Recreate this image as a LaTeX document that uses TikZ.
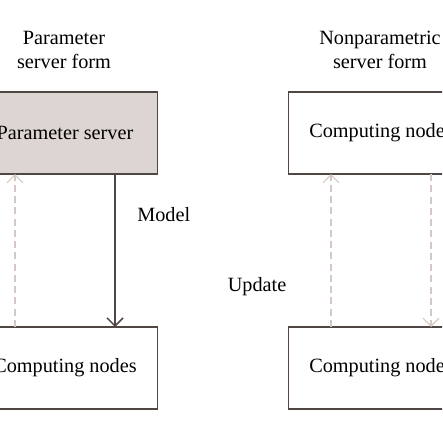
\documentclass[tikz,border=0pt]{standalone}
\usepackage{fontspec}
\setmainfont{Liberation Serif}
\usetikzlibrary{arrows.meta}
\definecolor{boxline}{HTML}{4F4744}
\definecolor{boxfill}{HTML}{DDD5D2}
\definecolor{dashline}{HTML}{D3C8C4}
\newcommand\armshift{1.25cm}

\begin{document}
\begin{tikzpicture}[x=0.025cm,y=-0.025cm,
		mybox/.style={rectangle,draw=boxline,line width=1.3pt,text=black,inner sep=0cm,outer sep=0cm,minimum width=4.625cm,minimum height=2.05cm,font=\fontsize{14.4}{17}\selectfont},
		mytitle/.style={align=center,text=black,inner sep=0cm,font=\fontsize{14.4}{17}\selectfont},
		mylabel/.style={text=black,inner sep=0cm,font=\fontsize{14.4}{17}\selectfont},
		solidarrow/.style={draw=boxline,line width=1.1pt,-{Straight Barb[length=2mm,width=4mm]}},
		dasharrow/.style={draw=dashline,line width=0.8pt,dash pattern=on 5pt off 3pt,-{Straight Barb[length=2mm,width=4mm]}}]
		\useasboundingbox (0,0) rectangle (442,442);
		\clip (0,0) rectangle (442,442);
		% left: parameter server form
		\node(tl)[mytitle] at (64,50) {Parameter\\server form};
		\node(ps)[mybox,fill=boxfill] at (65,133) {Parameter server};
		\node(cl)[mybox] at (65,368) {Computing nodes};
		% right: nonparametric server form
		\node(tr)[mytitle] at (380,50) {Nonparametric\\server form};
		\node(cu)[mybox] at (381,133) {Computing nodes};
		\node(cd)[mybox] at (381,368) {Computing nodes};
		% labels
		\node(model)[mylabel,anchor=west] at (137,215) {Model};
		\node(update)[mylabel] at (257,287) {Update};
		% arrows
		\draw [solidarrow] ([xshift=\armshift]ps.south) -- ([xshift=\armshift]cl.north);
		\draw [dasharrow] ([xshift=-\armshift]cl.north) -- ([xshift=-\armshift]ps.south);
		\draw [dasharrow] ([xshift=-\armshift]cd.north) -- ([xshift=-\armshift]cu.south);
		\draw [dasharrow] ([xshift=\armshift]cu.south) -- ([xshift=\armshift]cd.north);
	\end{tikzpicture}
\end{document}
